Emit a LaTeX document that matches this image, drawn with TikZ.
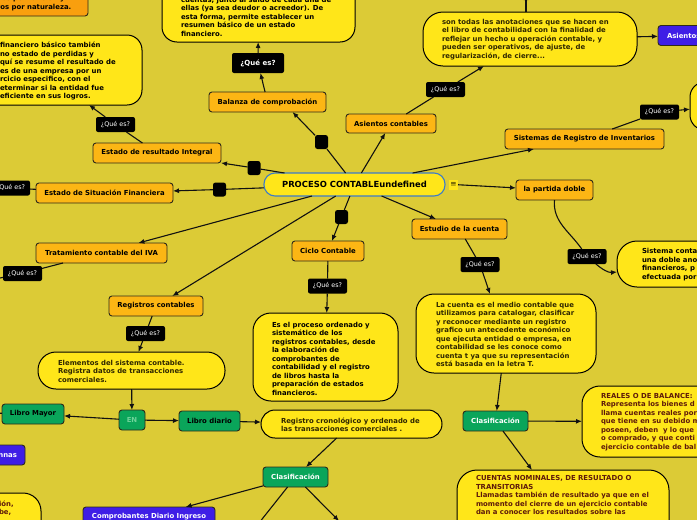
\documentclass[tikz,border=0pt]{standalone}
\usepackage{fontspec}
\setmainfont{DejaVu Sans}
\usetikzlibrary{arrows.meta}
\definecolor{bgc}{HTML}{DCCB36}
\definecolor{yellowc}{HTML}{FFE619}
\definecolor{orangec}{HTML}{FCB614}
\definecolor{dorangec}{HTML}{F99F0E}
\definecolor{greenc}{HTML}{0AA55A}
\definecolor{bluec}{HTML}{3F1EE6}
\definecolor{edgec}{HTML}{2E2A1A}
\definecolor{linec}{HTML}{111111}
\definecolor{cblue}{HTML}{3D7CC9}
\definecolor{maroonc}{HTML}{5E1A0A}
\definecolor{olivetext}{HTML}{2F2700}
\definecolor{enc}{HTML}{6FD39A}
\tikzset{
  every node/.style={inner sep=0pt, outer sep=0pt},
  tb/.style={font=\fontsize{6.9}{8.5}\selectfont\bfseries},
  boxbase/.style={tb, draw=edgec, line width=0.9pt, rounded corners=3pt, minimum height=20pt},
  obox/.style={boxbase, fill=orangec},
  gbox/.style={boxbase, fill=greenc},
  bbox/.style={boxbase, fill=bluec, text=white},
  ybox/.style={draw=black, line width=1pt, fill=yellowc},
  ytext/.style={tb, align=left, anchor=west},
  qlab/.style={fill=black, text=white, rounded corners=2pt, minimum width=39pt, minimum height=15pt, font=\fontsize{6.4}{7}\selectfont},
  hnd/.style={fill=black, rounded corners=2.5pt, minimum width=13pt, minimum height=14pt},
  con/.style={line width=1.1pt, draw=linec},
  arr/.style={con, -{Latex[length=6pt,width=5pt]}},
}
\begin{document}
\begin{tikzpicture}[x=1pt,y=-1pt]
\useasboundingbox (0,0) rectangle (697,520);
\clip (0,0) rectangle (697,520);
\fill[bgc] (0,0) rectangle (697,520);

% ---------- yellow boxes ----------
\node[ybox, rounded corners=15pt, minimum width=202pt, minimum height=70pt] (Yres) at (41,70) {};
\node[ytext] (Tres) at (0,71) {financiero básico también\\no estado de perdidas y\\quí se resume el resultado de\\es de una empresa por un\\rcicio especifico, con el\\eterminar si la entidad fue\\eficiente en sus logros.};

\node[ybox, rounded corners=15pt, minimum width=193pt, minimum height=82pt] (Ybal) at (258.5,1) {};
\node[ytext] (Tbal) at (181,16.5) {cuentas, junto al saldo de cada una de\\ellas (ya sea deudor o acreedor). De\\esta forma, permite establecer un\\resumen básico de un estado\\financiero.};

\node[ybox, rounded corners=20pt, minimum width=214pt, minimum height=54pt] (Yasi) at (530,39) {};
\node[ytext, text=olivetext] (Tasi) at (442,39.5) {son todas las anotaciones que se hacen en\\el libro de contabilidad con la finalidad de\\reflejar un hecho u operación contable, y\\pueden ser operativos, de ajuste, de\\regularización, de cierre...};

\node[ybox, rounded corners=15pt, minimum width=70pt, minimum height=48pt] (Ysis) at (725,106) {};

\node[ybox, rounded corners=20pt, minimum width=123pt, minimum height=46pt] (Ypart) at (678.5,264) {};
\node[ytext] (Tpart) at (642,264.5) {Sistema conta\\una doble ano\\financieros, p\\efectuada por};

\node[ybox, rounded corners=18pt, minimum width=180pt, minimum height=79pt] (Ycuenta) at (506,333.5) {};
\node[ytext, text=olivetext] (Tcuenta) at (436,334.5) {La cuenta es el medio contable que\\utilizamos para catalogar, clasificar\\y reconocer mediante un registro\\grafico un antecedente económico\\que ejecuta entidad o empresa, en\\contabilidad se les conoce como\\cuenta t ya que su representación\\está basada en la letra T.};

\node[ybox, rounded corners=18pt, minimum width=145pt, minimum height=88pt] (Yciclo) at (325.5,357) {};
\node[ytext] (Tciclo) at (272,358.5) {Es el proceso ordenado y\\sistemático de los\\registros contables, desde\\la elaboración de\\comprobantes de\\contabilidad y el registro\\de libros hasta la\\preparación de estados\\financieros.};

\node[ybox, rounded corners=14pt, minimum width=181pt, minimum height=28pt] (Yreg) at (351.5,424) {};
\node[ytext, text=olivetext] (Treg) at (281,425) {Registro cronológico y ordenado de\\las transacciones comerciales .};

\node[ybox, rounded corners=18pt, minimum width=187pt, minimum height=37pt] (Yelem) at (131.5,370.5) {};
\node[ytext, text=olivetext] (Telem) at (58,371) {Elementos del sistema contable.\\Registra datos de transacciones\\comerciales.};

\node[ybox, rounded corners=18pt, minimum width=138pt, minimum height=71pt] (Yreal) at (651,421.5) {};
\node[ytext, text=maroonc] (Treal) at (601,422) {REALES O DE BALANCE:\\Representa los bienes d\\llama cuentas reales por\\que tiene en su debido m\\poseen, deben\ \ y lo que\\o comprado, y que conti\\ejercicio contable de bal};

\node[ybox, rounded corners=20pt, minimum width=212pt, minimum height=90pt] (Ynom) at (563,515) {};
\node[tb, align=left, anchor=north west, text=maroonc] (Tnom) at (476,475.5) {CUENTAS NOMINALES, DE RESULTADO O\\TRANSITORIAS\\Llamadas también de resultado ya que en el\\momento del cierre de un ejercicio contable\\dan a conocer los resultados sobre las};

\node[ybox, rounded corners=18pt, minimum width=101pt, minimum height=67pt] (Ybl) at (-9.5,526.5) {};
\node[ytext, text=maroonc] (Tbl) at (-1,508) {ión,\\be,};

% ---------- orange boxes ----------
\node[boxbase, fill=dorangec, minimum width=148pt, minimum height=56pt] (topOr) at (14,-12) {};
\node[ytext] (TtopOr) at (-3,3) {dos por función y\\ros por naturaleza.};

\node[obox, minimum width=128pt] (resInt) at (157,153) {Estado de resultado Integral};
\node[obox, minimum width=137pt] (sitFin) at (104.5,193) {Estado de Situación Financiera};
\node[obox, minimum width=131pt] (iva) at (101.5,253) {Tratamiento contable del IVA};
\node[obox, minimum width=94pt] (regCont) at (156,306) {Registros contables};
\node[obox, minimum width=72pt] (ciclo) at (328,251) {Ciclo Contable};
\node[obox, minimum width=117pt] (balanza) at (267.5,102) {Balanza de comprobación};
\node[obox, minimum width=90pt, minimum height=19pt] (asCont) at (391,123.5) {Asientos contables};
\node[obox, minimum width=159pt] (sisReg) at (584.5,139) {Sistemas de Registro de Inventarios};
\node[obox, minimum width=77pt] (partida) at (554.5,190) {la partida doble};
\node[obox, minimum width=95pt] (estudio) at (459.5,229) {Estudio de la cuenta};

% ---------- green boxes ----------
\node[gbox, minimum width=26pt, text=enc] (EN) at (132,420) {EN};
\node[gbox, minimum width=62pt] (mayor) at (33,414) {Libro Mayor};
\node[gbox, minimum width=61pt] (diario) at (209.5,421) {Libro diario};
\node[gbox, minimum width=65pt, text=white] (clasA) at (295.5,477) {Clasificación};
\node[gbox, minimum width=65pt, text=white] (clasB) at (495.5,421) {Clasificación};

% ---------- blue boxes ----------
\node[bbox, minimum width=54pt] (colB) at (-2,455) {};
\node[tb, text=white, anchor=east] (TcolB) at (17,455.5) {nnas};
\node[bbox, minimum width=132pt] (comprob) at (149,517) {Comprobantes Diario Ingreso};
\node[bbox, minimum width=82pt] (asBlue) at (699,35.5) {};
\node[tb, text=white, anchor=west] (TasBlue) at (667,36) {Asientos};

% ---------- central node ----------
\node[draw=cblue, fill=yellowc, line width=1.1pt, rounded corners=11pt, minimum width=181pt, minimum height=23pt, font=\fontsize{8.4}{10}\selectfont\bfseries] (center) at (354.5,184.5) {PROCESO CONTABLEundefined};
\node[fill=yellowc, minimum width=9pt, minimum height=10pt, text=olivetext, font=\fontsize{7.5}{8}\selectfont] (icon) at (453.5,184.5) {≡};

% ---------- labels ----------
\node[qlab] (q1) at (115.5,124.5) {¿Qué es?};
\node[qlab] (q2) at (10.5,188) {¿Qué es?};
\node[qlab] (q3) at (22.5,273.5) {¿Qué es?};
\node[qlab] (q4) at (145.5,333.5) {¿Qué es?};
\node[qlab] (q5) at (327.5,286) {¿Qué es?};
\node[qlab, minimum width=52pt, minimum height=20pt, font=\fontsize{7}{8}\selectfont\bfseries] (q6) at (258,63) {¿Qué es?};
\node[qlab] (q7) at (445.5,89.5) {¿Qué es?};
\node[qlab] (q8) at (659.5,112) {¿Qué es?};
\node[qlab] (q9) at (587,256.5) {¿Qué es?};
\node[qlab] (q10) at (480,264.5) {¿Qué es?};

\node[hnd] (s1) at (254,168) {};
\node[hnd] (s2) at (219.5,189.5) {};
\node[hnd] (s3) at (321.5,142) {};
\node[hnd] (s4) at (341.5,217) {};

\coordinate (q3off) at (-10,280);
\coordinate (mayoff) at (-10,413);
\coordinate (asiUp) at (526,-6);
\coordinate (cdl) at (255,528);
\coordinate (cdr) at (339,521);

% ---------- connectors ----------
\begin{scope}[on background layer/.style={}]
\end{scope}
\draw[con] (center) -- (s1);  \draw[arr] (s1) -- (resInt);
\draw[con] (center) -- (s2);  \draw[arr] (s2) -- (sitFin);
\draw[arr] (center) -- (iva);
\draw[arr] (center) -- (regCont);
\draw[con] (center) -- (s4);  \draw[arr] (s4) -- (ciclo);
\draw[arr] (center) -- (estudio);
\draw[con] (center) -- (s3);  \draw[arr] (s3) -- ([xshift=25pt]balanza.south);
\draw[arr] (center) -- (asCont);
\draw[arr] (center) -- (sisReg);
\draw[arr] (icon) -- (partida);

\draw[con] (resInt) -- (q1);  \draw[arr] (q1) -- ([xshift=-53pt]Yres.south east);
\draw[con] (q2) -- (sitFin);
\draw[con] (iva) -- (q3);  \draw[con] (q3) -- (q3off);
\draw[con] (regCont) -- (q4);  \draw[arr] (q4) -- (Yelem);
\draw[arr] (Yelem) -- (EN);
\draw[arr] (EN) -- (mayor);
\draw[arr] (EN) -- (diario);
\draw[con] (mayor) -- (mayoff);
\draw[arr] (diario) -- (Yreg);
\draw[arr] (Yreg) -- (clasA);
\draw[arr] (clasA) -- (comprob);
\draw[con] (clasA) -- (cdl);
\draw[arr] (clasA) -- (cdr);

\draw[con] (ciclo) -- (q5);  \draw[arr] (q5) -- (Yciclo);
\draw[arr] (balanza) -- (q6);  \draw[arr] (q6) -- (Ybal);
\draw[con] (asCont) -- (q7);  \draw[arr] (q7) -- ([xshift=-46pt]Yasi.south);
\draw[arr] ([xshift=-4pt]Yasi.north) -- (asiUp);
\draw[arr] (Yasi) -- (asBlue);
\draw[con] (sisReg) -- (q8);  \draw[arr] (q8) -- (Ysis);
\draw[con] (partida.south) to[out=-95,in=125] (q9);
\draw[arr] (q9) to[out=-40,in=185] ([yshift=-8pt]Ypart.west);
\draw[con] (estudio) -- (q10);  \draw[arr] (q10) -- ([xshift=-16pt]Ycuenta.north);
\draw[arr] (Ycuenta) -- (clasB);
\draw[arr] (clasB) -- (Yreal);
\draw[arr] (clasB) -- ([xshift=-31pt]Ynom.north);
\end{tikzpicture}
\end{document}
